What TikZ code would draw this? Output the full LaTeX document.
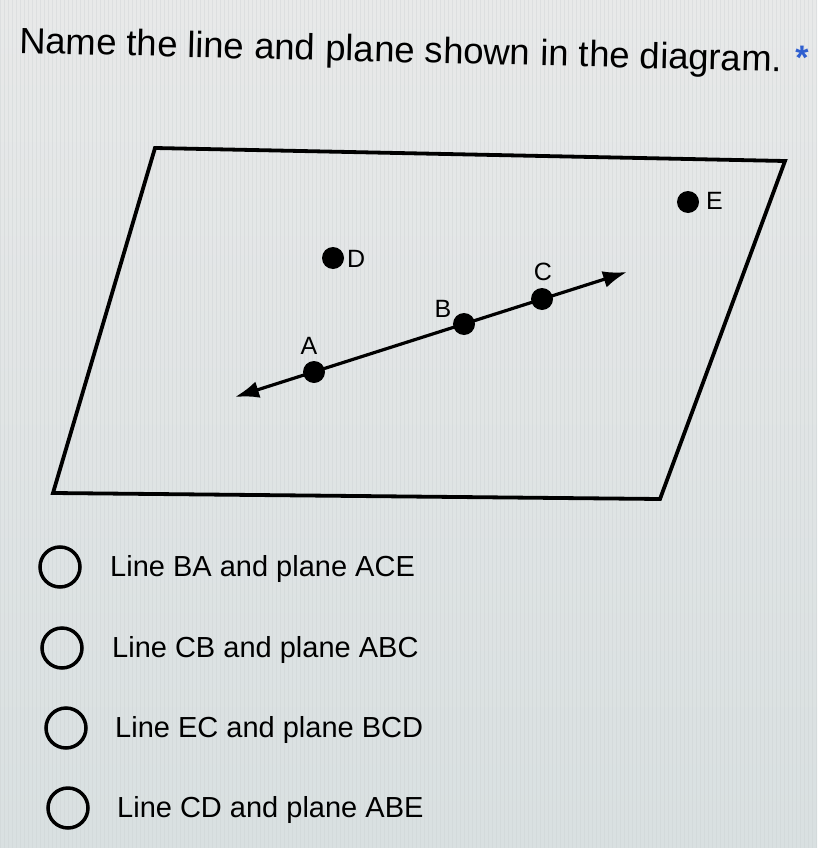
\documentclass[tikz,border=0pt]{standalone}
\usepackage{fontspec}
\setmainfont{Liberation Sans}
\usetikzlibrary{arrows.meta}
\definecolor{bgtop}{HTML}{E8E9E9}
\definecolor{bgbot}{HTML}{D9E0E1}
\definecolor{stripe}{HTML}{C9CFD0}
\definecolor{astblue}{HTML}{2F5FD0}
\tikzset{
  dot/.style={circle,fill=black,inner sep=0pt,minimum size=22pt},
  lbl/.style={font=\fontsize{25}{25}\selectfont,inner sep=0pt},
  opt/.style={font=\fontsize{29}{29}\selectfont,inner sep=0pt,anchor=base west},
  radio/.style={circle,draw=black,line width=3.5pt,inner sep=0pt,minimum size=40pt},
  edge/.style={line width=3.8pt,line join=miter},
  ray/.style={line width=3.2pt,{Latex[length=24pt,width=17pt]}-{Latex[length=24pt,width=17pt]}}
}
\begin{document}
\begin{tikzpicture}[x=1pt,y=-1pt]
\useasboundingbox (0,0) rectangle (817,848);
\shade[top color=bgtop,bottom color=bgbot] (0,0) rectangle (817,848);
\foreach \i in {0,4,...,816} {\fill[stripe,opacity=0.35] (\i,0) rectangle (\i+1.4,848);}
% title
\node[anchor=base west,inner sep=0pt,rotate=-1.4,font=\fontsize{36.5}{36.5}\selectfont] (title) at (19,53) {Name the line and plane shown in the diagram.};
\node[inner sep=0pt,text=astblue,font=\fontsize{34}{34}\selectfont\bfseries] (ast) at (802,58) {*};
% plane
\coordinate (P1) at (155,148);
\coordinate (P2) at (785,161);
\coordinate (P3) at (660,499);
\coordinate (P4) at (53,493);
\draw[edge] (P1) -- (P2) -- (P3) -- (P4) -- cycle;
% points
\node[dot] (D) at (333,258) {};
\node[dot] (E) at (688,202) {};
\node[lbl,anchor=west] (Dl) at (347,259) {D};
\node[lbl,anchor=west] (El) at (706,201) {E};
\coordinate (L) at (235,397);
\coordinate (R) at (627,272);
\draw[ray] (L) -- (R);
\node[dot] (A) at (314,372) {};
\node[dot] (B) at (464,324) {};
\node[dot] (C) at (542,299) {};
\node[lbl] (Al) at (309,346) {A};
\node[lbl] (Bl) at (443,309) {B};
\node[lbl] (Cl) at (543,272) {C};
% options
\node[radio] (r1) at (60,567) {};
\node[radio] (r2) at (62,648) {};
\node[radio] (r3) at (66,728) {};
\node[radio] (r4) at (68,808) {};
\node[opt] (o1) at (110,576) {Line BA and plane ACE};
\node[opt] (o2) at (112,657) {Line CB and plane ABC};
\node[opt] (o3) at (115,737) {Line EC and plane BCD};
\node[opt] (o4) at (117,817) {Line CD and plane ABE};
\end{tikzpicture}
\end{document}
